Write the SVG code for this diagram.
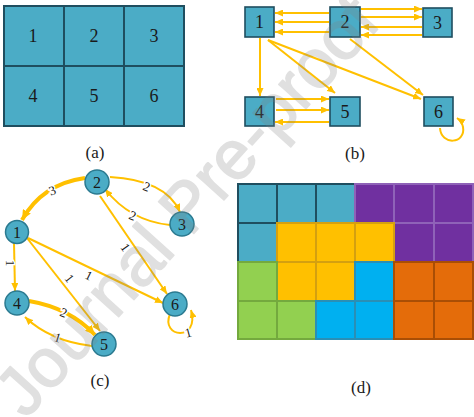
<svg xmlns="http://www.w3.org/2000/svg" width="474" height="417" viewBox="0 0 474 417">
<style>
text{font-family:"Liberation Serif","DejaVu Serif",serif;fill:#1a1a1a;text-anchor:middle}
.cell{fill:#4BACC6;stroke:#1F4E5F;stroke-width:2}
.box{fill:#4BACC6;stroke:#1F4E5F;stroke-width:1.6}
.node{fill:#4BACC6;stroke:#2B7A90;stroke-width:1.5}
.lbl{font-size:18px}
.nl{font-size:16px}
.cap{font-size:17px}
.e{fill:none;stroke:#FFC000;stroke-width:2;marker-end:url(#ah)}
.ec{fill:none;stroke:#FFC000;stroke-width:2;marker-end:url(#ah)}
.et{fill:none;stroke:#FFC000;stroke-width:4;marker-end:url(#ahb)}
.el{font-size:13px;paint-order:stroke;stroke:#fff;stroke-width:3px}
.wm{font-family:"Liberation Sans",Arial,sans-serif;font-size:69px;fill:#808080;stroke:#808080;stroke-width:1.5px;stroke-linejoin:round;text-anchor:middle}
</style>
<defs>
<marker id="ah" markerWidth="8" markerHeight="7" refX="8" refY="3.5" orient="auto" markerUnits="userSpaceOnUse"><path d="M0,0 L8,3.5 L0,7 z" fill="#FFC000"/></marker>
<marker id="ahb" markerWidth="10" markerHeight="9" refX="10" refY="4.5" orient="auto" markerUnits="userSpaceOnUse"><path d="M0,0 L10,4.5 L0,9 z" fill="#FFC000"/></marker>
</defs>
<rect width="474" height="417" fill="#fff"/>

<!-- Panel (a) -->
<g id="a-1"><rect class="cell" x="4" y="6" width="60" height="60"/><text class="lbl" x="33" y="42">1</text></g>
<g id="a-2"><rect class="cell" x="64" y="6" width="60" height="60"/><text class="lbl" x="94" y="42">2</text></g>
<g id="a-3"><rect class="cell" x="124" y="6" width="60" height="60"/><text class="lbl" x="154" y="42">3</text></g>
<g id="a-4"><rect class="cell" x="4" y="66" width="60" height="60"/><text class="lbl" x="33" y="102">4</text></g>
<g id="a-5"><rect class="cell" x="64" y="66" width="60" height="60"/><text class="lbl" x="94" y="102">5</text></g>
<g id="a-6"><rect class="cell" x="124" y="66" width="60" height="60"/><text class="lbl" x="154" y="102">6</text></g>
<text class="cap" x="95" y="158">(a)</text>

<!-- Panel (b) -->
<g id="b-connectors">
<line class="e" x1="329" y1="13" x2="275" y2="13"/>
<line class="e" x1="329" y1="22" x2="275" y2="22"/>
<line class="e" x1="329" y1="32" x2="275" y2="32"/>
<line class="e" x1="361" y1="9" x2="422" y2="9"/>
<line class="e" x1="361" y1="17" x2="422" y2="17"/>
<line class="e" x1="422" y1="27" x2="361" y2="27"/>
<line class="e" x1="422" y1="35" x2="361" y2="35"/>
<line class="e" x1="260" y1="38" x2="260" y2="96"/>
<line class="e" x1="268" y1="40" x2="335" y2="93"/>
<line class="e" x1="268" y1="40" x2="421" y2="99"/>
<line class="e" x1="350" y1="39" x2="423" y2="95"/>
<line class="e" x1="276" y1="99" x2="329" y2="99"/>
<line class="e" x1="276" y1="110" x2="329" y2="110"/>
<line class="e" x1="329" y1="122" x2="275" y2="122"/>
<path class="e" d="M440,128 C441,146 466,144 463,127 C462,122 460,120 457,118"/>
</g>
<g id="b-1"><rect class="box" x="245" y="7" width="29" height="30"/><text class="lbl" x="259.5" y="28">1</text></g>
<g id="b-2"><rect class="box" x="330" y="7" width="30" height="30"/><text class="lbl" x="345" y="28">2</text></g>
<g id="b-3"><rect class="box" x="423" y="8" width="29" height="29"/><text class="lbl" x="437.5" y="28.5">3</text></g>
<g id="b-4"><rect class="box" x="245" y="97" width="29" height="29"/><text class="lbl" x="259.5" y="117.5">4</text></g>
<g id="b-5"><rect class="box" x="330" y="97" width="30" height="29"/><text class="lbl" x="345" y="117.5">5</text></g>
<g id="b-6"><rect class="box" x="424" y="97" width="29" height="29"/><text class="lbl" x="438.5" y="117.5">6</text></g>
<text class="cap" x="355" y="159">(b)</text>

<!-- Panel (c) -->
<g id="c-connectors">
<path class="et" d="M85,178 Q42,184 22,220"/>
<path class="ec" d="M110,177 Q166,180 180,212"/>
<path class="ec" d="M170,225 Q130,221 105,189"/>
<line class="ec" x1="100" y1="196" x2="167" y2="294"/>
<line class="ec" x1="14" y1="243" x2="15" y2="291"/>
<line class="ec" x1="27" y1="238" x2="100" y2="331"/>
<line class="ec" x1="28" y1="238" x2="163" y2="303"/>
<path class="et" d="M29,301 Q70,308 95,335"/>
<path class="ec" d="M92,346 Q50,341 25,317"/>
<path class="ec" d="M170,314 C160,338 200,342 191,310"/>
</g>
<g id="c-labels">
<text class="el" x="52" y="195" transform="rotate(-20 52 190)">3</text>
<text class="el" x="147" y="191" transform="rotate(22 147 186)">2</text>
<text class="el" x="133" y="220" transform="rotate(22 133 215)">2</text>
<text class="el" x="126" y="252" transform="rotate(55 126 247)">1</text>
<text class="el" x="11" y="268" transform="rotate(90 11 263)">1</text>
<text class="el" x="70" y="283" transform="rotate(52 70 278)">1</text>
<text class="el" x="89" y="280" transform="rotate(26 89 275)">1</text>
<text class="el" x="64" y="317" transform="rotate(22 64 312)">2</text>
<text class="el" x="58" y="342" transform="rotate(18 58 337)">1</text>
<text class="el" x="188" y="337" transform="rotate(-15 188 332)">1</text>
</g>
<g id="c-1"><circle class="node" cx="17" cy="232" r="11.5"/><text class="nl" x="17" y="237.5">1</text></g>
<g id="c-2"><circle class="node" cx="97" cy="182" r="12"/><text class="nl" x="97" y="187.5">2</text></g>
<g id="c-3"><circle class="node" cx="182" cy="224" r="12"/><text class="nl" x="182" y="229.5">3</text></g>
<g id="c-4"><circle class="node" cx="17" cy="303" r="12"/><text class="nl" x="17" y="308.5">4</text></g>
<g id="c-5"><circle class="node" cx="104" cy="344" r="12"/><text class="nl" x="104" y="349.5">5</text></g>
<g id="c-6"><circle class="node" cx="175" cy="304" r="12"/><text class="nl" x="175" y="309.5">6</text></g>
<text class="cap" x="100" y="386">(c)</text>

<!-- Panel (d) -->
<g id="d-grid">
<g fill="#4BACC6" stroke="#1F4E5F" stroke-width="2">
<rect x="238" y="184" width="39" height="39"/>
<rect x="277" y="184" width="39" height="39"/>
<rect x="316" y="184" width="39" height="39"/>
<rect x="238" y="223" width="39" height="39"/>
</g>
<g fill="#7030A0" stroke="#8F62B8" stroke-width="2">
<rect x="355" y="184" width="39" height="39"/>
<rect x="394" y="184" width="40" height="39"/>
<rect x="434" y="184" width="39" height="39"/>
<rect x="394" y="223" width="40" height="39"/>
<rect x="434" y="223" width="39" height="39"/>
</g>
<g fill="#FFC000" stroke="#D4A010" stroke-width="2">
<rect x="277" y="223" width="39" height="39"/>
<rect x="316" y="223" width="39" height="39"/>
<rect x="355" y="223" width="39" height="39"/>
<rect x="277" y="262" width="39" height="39"/>
<rect x="316" y="262" width="39" height="39"/>
</g>
<g fill="#92D050" stroke="#74A93E" stroke-width="2">
<rect x="238" y="262" width="39" height="39"/>
<rect x="238" y="301" width="39" height="38"/>
<rect x="277" y="301" width="39" height="38"/>
</g>
<g fill="#00B0F0" stroke="#2A8FB5" stroke-width="2">
<rect x="355" y="262" width="39" height="39"/>
<rect x="316" y="301" width="39" height="38"/>
<rect x="355" y="301" width="39" height="38"/>
</g>
<g fill="#E46C0A" stroke="#A94E05" stroke-width="2">
<rect x="394" y="262" width="40" height="39"/>
<rect x="434" y="262" width="39" height="39"/>
<rect x="394" y="301" width="40" height="38"/>
<rect x="434" y="301" width="39" height="38"/>
</g>
</g>
<text class="cap" x="361" y="393">(d)</text>

<!-- watermark -->
<g opacity="0.24">
<text class="wm" x="204" y="222" transform="rotate(-48 204 222)">Journal Pre-proof</text>
</g>
</svg>
